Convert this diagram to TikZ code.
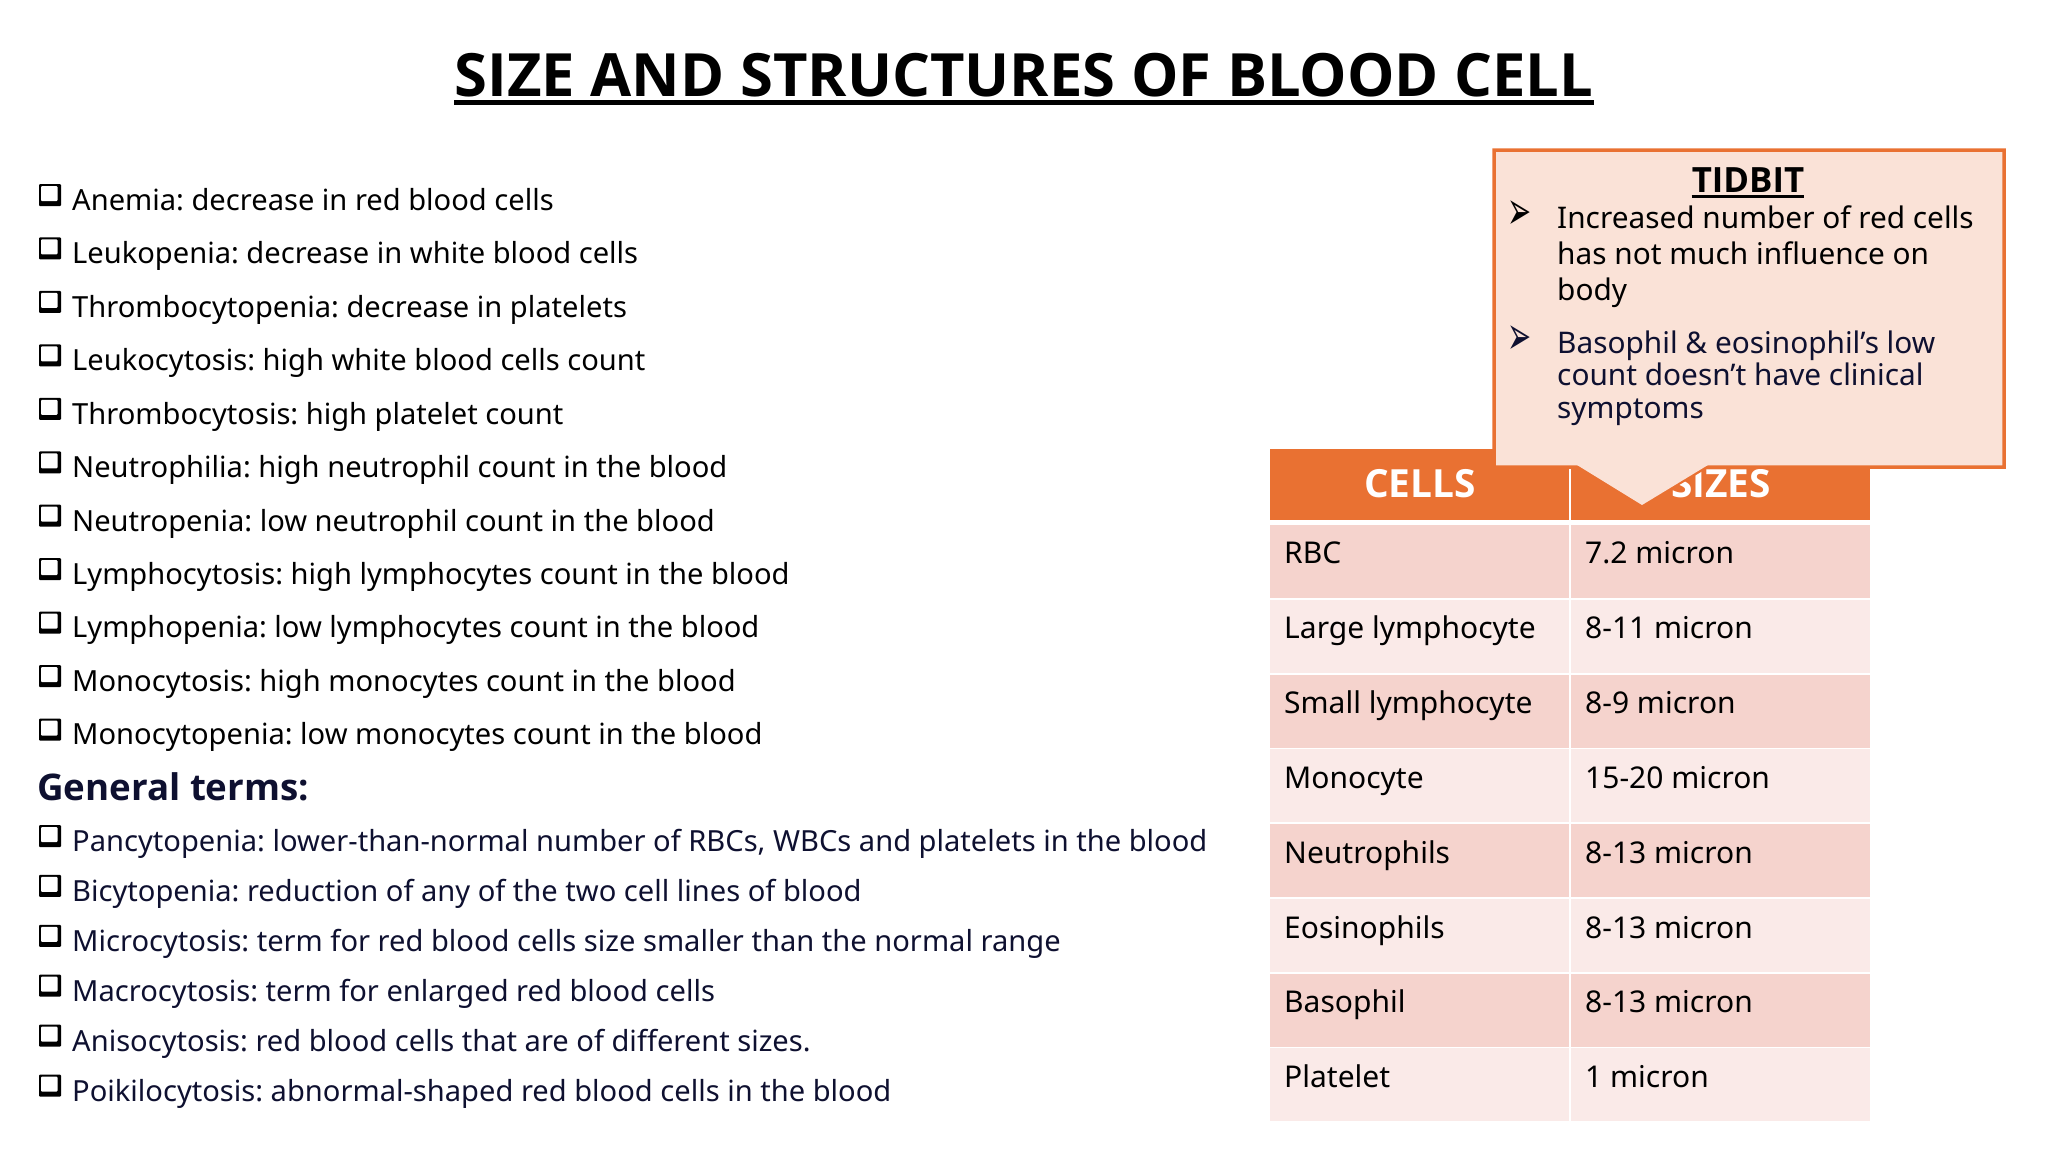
\documentclass[tikz,border=0pt]{standalone}
\usepackage{fontspec}
\setmainfont{Noto Sans}
\newfontfamily\symfont{DejaVu Sans}
\newfontfamily\boldfont{Open Sans}[BoldFont={Open Sans Bold}]
\usetikzlibrary{calc}
\definecolor{BOrange}{HTML}{E97132}
\definecolor{BFill}{HTML}{FAE2D7}
\definecolor{RowDark}{HTML}{F5D3CD}
\definecolor{RowLight}{HTML}{FAEAE8}
\definecolor{TNavy}{HTML}{0E1030}
\tikzset{
    termtext/.style = {anchor=base west, inner sep=0pt, font=\fontsize{29.1}{36}\selectfont},
    celltext/.style = {anchor=base west, inner sep=0pt, font=\fontsize{30}{36}\selectfont},
    headtext/.style = {anchor=base, inner sep=0pt, text=white, font=\fontsize{38.8}{44}\selectfont\boldfont\bfseries},
    tiptext/.style = {anchor=base west, inner sep=0pt, font=\fontsize{29.8}{36}\selectfont},
    tipmark/.style = {anchor=base west, inner sep=0pt, font=\fontsize{36}{40}\selectfont\symfont}
}
\newcommand{\chkbox}[2]{
    \fill[black, rounded corners=1pt] (#1,#2) rectangle ++(22,22);
    \fill[white, rounded corners=1pt] (#1+2,#2+2) rectangle ++(16.5,15);
}
\frenchspacing
\begin{document}
\begin{tikzpicture}[x=1pt,y=-1pt]
        \useasboundingbox (0,0) rectangle (2048,1152);
        \node[anchor=base, inner sep=0pt, font=\fontsize{59.7}{70}\selectfont\boldfont\bfseries] (title) at (1024,96) {SIZE AND STRUCTURES OF BLOOD CELL};
        \draw[line width=5pt] ($(title.base west)+(0,6.5)$) -- ($(title.base east)+(0,6.5)$);
        % first list
        \foreach \y/\txt [count=\i] in {
            0/Anemia: decrease in red blood cells,
            1/Leukopenia: decrease in white blood cells,
            2/Thrombocytopenia: decrease in platelets,
            3/Leukocytosis: high white blood cells count,
            4/Thrombocytosis: high platelet count,
            5/Neutrophilia: high neutrophil count in the blood,
            6/Neutropenia: low neutrophil count in the blood,
            7/Lymphocytosis: high lymphocytes count in the blood,
            8/Lymphopenia: low lymphocytes count in the blood,
            9/Monocytosis: high monocytes count in the blood,
            10/Monocytopenia: low monocytes count in the blood}{
            \chkbox{39}{184+53.45*\y}
            \node[termtext] (term\i) at (72,210.3+53.45*\y) {\txt};
        }
        \node[termtext, text=TNavy, font=\fontsize{36.7}{44}\selectfont\boldfont\bfseries] (general) at (37,800) {General terms:};
        % second list
        \foreach \y/\txt [count=\i] in {
            0/{Pancytopenia: lower-than-normal number of RBCs, WBCs and platelets in the blood},
            1/Bicytopenia: reduction of any of the two cell lines of blood,
            2/Microcytosis: term for red blood cells size smaller than the normal range,
            3/Macrocytosis: term for enlarged red blood cells,
            4/Anisocytosis: red blood cells that are of different sizes.,
            5/Poikilocytosis: abnormal-shaped red blood cells in the blood}{
            \chkbox{39}{825+49.9*\y}
            \node[termtext, text=TNavy] (gen\i) at (72,851.5+49.9*\y) {\txt};
        }
        % table
        \fill[BOrange] (1270,449) rectangle (1569,520);
        \fill[BOrange] (1571,449) rectangle (1870,520);
        \node[headtext] (cells) at (1420,497) {CELLS};
        \node[headtext] (sizes) at (1721,497) {SIZES};
        \foreach \y/\cell/\size [count=\i] in {
            0/RBC/7.2 micron,
            1/Large lymphocyte/8-11 micron,
            2/Small lymphocyte/8-9 micron,
            3/Monocyte/15-20 micron,
            4/Neutrophils/8-13 micron,
            5/Eosinophils/8-13 micron,
            6/Basophil/8-13 micron,
            7/Platelet/1 micron}{
            \pgfmathsetmacro{\shade}{mod(\i,2)==1 ? 1 : 0}
            \ifnum\shade=1 \colorlet{rowcol}{RowDark}\else\colorlet{rowcol}{RowLight}\fi
            \fill[rowcol] (1270,525+74.75*\y) rectangle (1569,598+74.75*\y);
            \fill[rowcol] (1571,525+74.75*\y) rectangle (1870,598+74.75*\y);
            \node[celltext] (cell\i) at (1284,563.5+74.9*\y) {\cell};
            \node[celltext] (size\i) at (1585,563.5+74.9*\y) {\size};
        }
        % callout
        \draw[line width=3.5pt, draw=BOrange, fill=BFill] (1494,150) -- (2004,150) -- (2004,467) -- (1706,467) -- (1642,505) -- (1579,467) -- (1494,467) -- cycle;
        \fill[BFill] (1577,465) -- (1708,465) -- (1642,505) -- cycle;
        \node[anchor=base, inner sep=0pt, font=\fontsize{34.8}{38}\selectfont\boldfont\bfseries] (tidbit) at (1748,192.5) {TIDBIT};
        \draw[line width=2.5pt] ($(tidbit.base west)+(0,4)$) -- ($(tidbit.base east)+(0,4)$);
        \node[tipmark] (mark1) at (1507,229) {\scalebox{0.8}[1.5]{➢}};
        \node[tiptext] (tip1a) at (1557,228.5) {Increased number of red cells};
        \node[tiptext] (tip1b) at (1557,264.5) {has not much influence on};
        \node[tiptext] (tip1c) at (1557,300.5) {body};
        \node[tipmark, text=TNavy] (mark2) at (1507,354) {\scalebox{0.8}[1.5]{➢}};
        \node[tiptext, text=TNavy] (tip2a) at (1557,353) {Basophil \& eosinophil’s low};
        \node[tiptext, text=TNavy] (tip2b) at (1557,385.5) {count doesn’t have clinical};
        \node[tiptext, text=TNavy] (tip2c) at (1557,418) {symptoms};
\end{tikzpicture}
\end{document}
